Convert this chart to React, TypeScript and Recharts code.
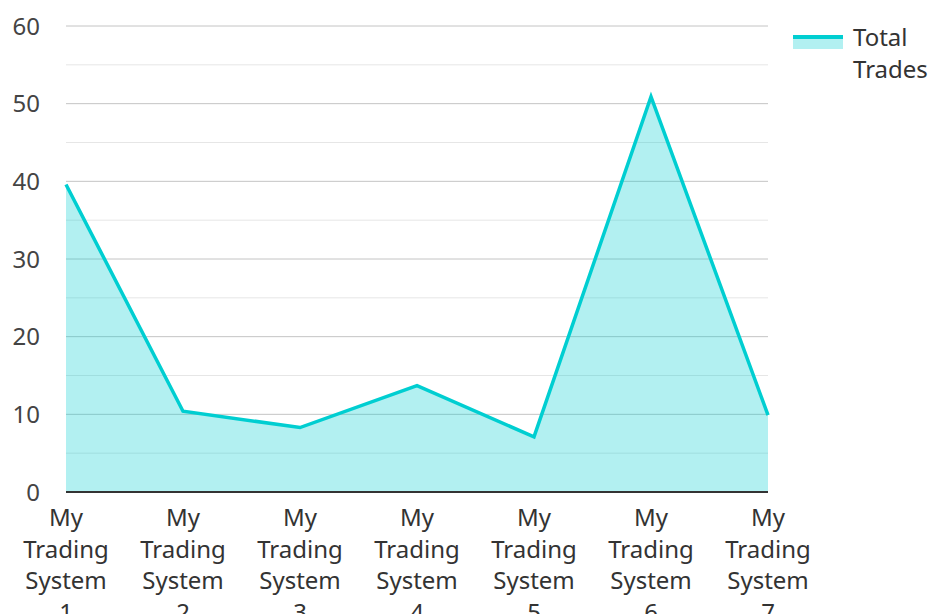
import { AreaChart, Area, XAxis, YAxis, CartesianGrid } from "recharts";

const categories = [
  "My Trading System 1",
  "My Trading System 2",
  "My Trading System 3",
  "My Trading System 4",
  "My Trading System 5",
  "My Trading System 6",
  "My Trading System 7",
];
const totalTrades = [39.6, 10.4, 8.3, 13.7, 7.1, 50.9, 9.9];
const yTicks = [0, 10, 20, 30, 40, 50, 60];
const minorLines = [5, 15, 25, 35, 45, 55];
const majorLines = [10, 20, 30, 40, 50, 60];

const data = categories.map((name, i) => ({ name, trades: totalTrades[i] }));

const TEAL = "#00CED1";
const FONT = "'Noto Sans', 'Open Sans', sans-serif";

function WrappedTick(props: any) {
  const { x, y, payload } = props;
  const words = String(payload.value).split(" ");
  return (
    <text x={x} y={y} textAnchor="middle" fill="#333" fontSize={24} fontFamily={FONT}>
      {words.map((w, i) => (
        <tspan key={i} x={x} dy={i === 0 ? 26 : 31.5}>
          {w}
        </tspan>
      ))}
    </text>
  );
}

export default function App() {
  return (
    <div style={{ position: "absolute", left: 0, top: 0, width: 930, height: 614, background: "#fff", fontFamily: FONT }}>
      <AreaChart
        width={930}
        height={614}
        data={data}
        margin={{ top: 26, right: 162, bottom: 0, left: 0 }}
      >
        <CartesianGrid vertical={false} horizontalValues={minorLines} stroke="#e6e6e6" strokeWidth={1} />
        <CartesianGrid vertical={false} horizontalValues={majorLines} stroke="#c4c4c4" strokeWidth={1} />
        <XAxis
          dataKey="name"
          interval={0}
          tickLine={false}
          axisLine={{ stroke: "#333", strokeWidth: 2 }}
          tick={<WrappedTick />}
          height={122}
        />
        <YAxis
          domain={[0, 60]}
          ticks={yTicks}
          width={66}
          axisLine={false}
          tickLine={false}
          tickMargin={20}
          tick={{ fill: "#444", fontSize: 24, fontFamily: FONT }}
        />
        <Area
          type="linear"
          dataKey="trades"
          stroke={TEAL}
          strokeWidth={3.5}
          fill={TEAL}
          fillOpacity={0.3}
          isAnimationActive={false}
          dot={false}
          activeDot={false}
        />
      </AreaChart>
      <div style={{ position: "absolute", left: 793, top: 21, display: "flex", alignItems: "flex-start" }}>
        <svg width={50} height={30} style={{ marginTop: 14 }}>
          <rect x={0} y={2} width={50} height={12} fill={TEAL} fillOpacity={0.3} />
          <line x1={0} x2={50} y1={2} y2={2} stroke={TEAL} strokeWidth={4} />
        </svg>
        <div style={{ marginLeft: 10, fontSize: 24, lineHeight: "32px", color: "#333", width: 80 }}>
          Total
          <br />
          Trades
        </div>
      </div>
    </div>
  );
}
